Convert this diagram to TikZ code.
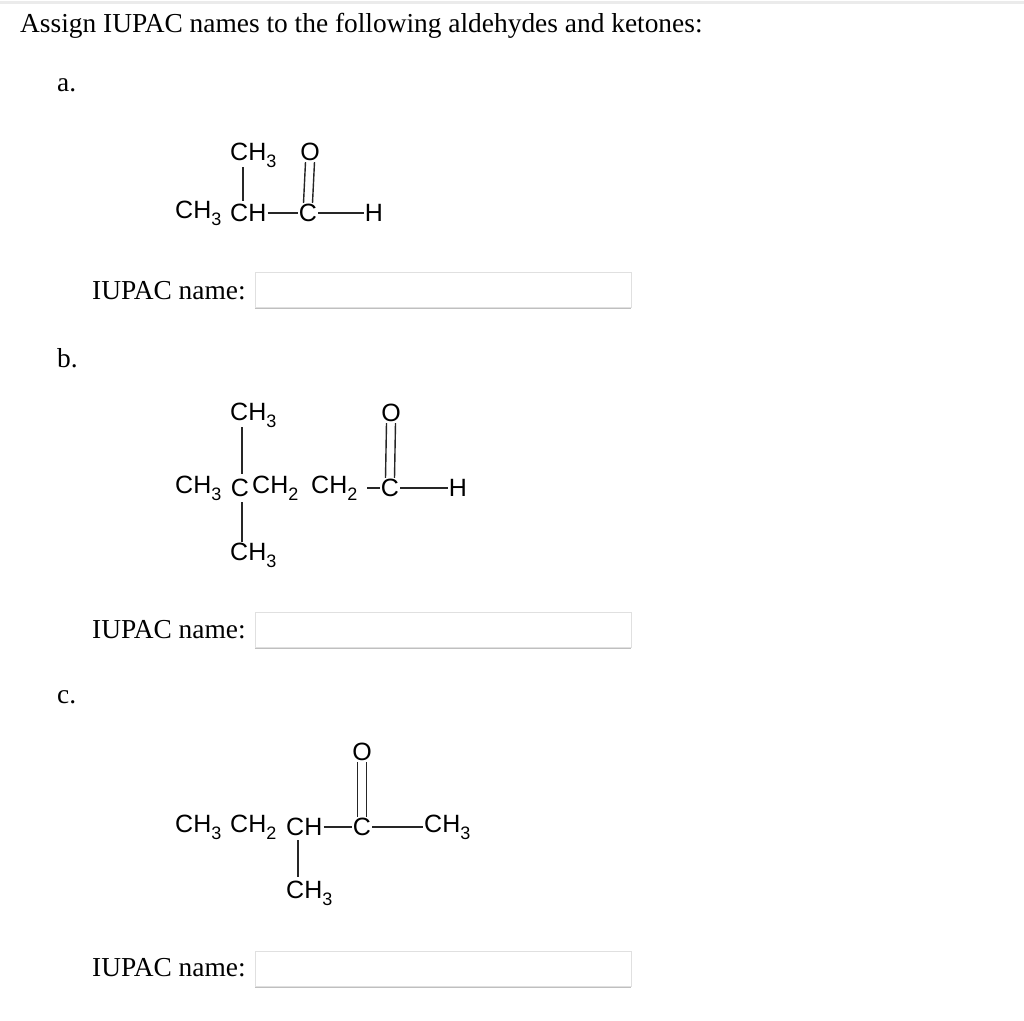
\documentclass[tikz,border=0pt]{standalone}
\usepackage{fontspec}
\setmainfont{Liberation Serif}
\newfontfamily\chemf{Liberation Sans}
\newcommand{\sbx}[1]{\raisebox{-0.28em}{\fontsize{18}{18}\selectfont #1}}
\begin{document}
\begin{tikzpicture}[x=1pt,y=-1pt,
  lab/.style={inner sep=0pt,anchor=west,font=\fontsize{27.4}{27.4}\selectfont},
  ch/.style={inner sep=1pt,font=\chemf\fontsize{25}{25}\selectfont},
  bond/.style={line width=1.4pt,draw=black!85},
  ansbox/.style={draw=black!12,line width=1pt,fill=white}]
\useasboundingbox (0,0) rectangle (1024,1020);
\draw[black!8,line width=3pt] (0,2) -- (1024,2);
\node[lab] (title) at (20,26) {Assign IUPAC names to the following aldehydes and ketones:};
% a
\node[lab] (la) at (57,85) {a.};
\node[ch,anchor=west] (a1) at (174,213) {CH\sbx{3}};
\node[ch,anchor=west] (a2) at (229,213) {CH};
\node[ch] (a3) at (308,213) {C};
\node[ch] (a4) at (374,213) {H};
\node[ch,anchor=west] (a5) at (229,155) {CH\sbx{3}};
\node[ch] (a6) at (310,152) {O};
\draw[bond] (a2.east) -- (a3.west);
\draw[bond] (a3.east) -- (a4.west);
\draw[bond] (243,167) -- (243,201);
\draw[bond] ([xshift=-4.5pt]a6.south) -- ([xshift=-4.5pt]a3.north);
\draw[bond] ([xshift=4.5pt]a6.south) -- ([xshift=4.5pt]a3.north);
\node[lab] (na) at (92,291) {IUPAC name:};
\draw[black!25,line width=1.5pt] (255,308) -- (631,308);
\node[ansbox,minimum width=376pt,minimum height=35pt,anchor=north west] (ba) at (255,272) {};
% b
\node[lab] (lb) at (57,358) {b.};
\node[ch,anchor=west] (b1) at (174,488) {CH\sbx{3}};
\node[ch] (b2) at (240,488) {C};
\node[ch,anchor=west] (b3) at (251,488) {CH\sbx{2}};
\node[ch,anchor=west] (b4) at (310,488) {CH\sbx{2}};
\node[ch] (b5) at (390,488) {C};
\node[ch] (b6) at (458,488) {H};
\node[ch,anchor=west] (b7) at (229,415) {CH\sbx{3}};
\node[ch,anchor=west] (b8) at (229,555) {CH\sbx{3}};
\node[ch] (b9) at (391,413) {O};
\draw[bond] (367,488) -- (b5.west);
\draw[bond] (b5.east) -- (b6.west);
\draw[bond] (242,427) -- (242,474);
\draw[bond] (242,502) -- (242,542);
\draw[bond] ([xshift=-4.5pt]b9.south) -- ([xshift=-4.5pt]b5.north);
\draw[bond] ([xshift=4.5pt]b9.south) -- ([xshift=4.5pt]b5.north);
\node[lab] (nb) at (92,630) {IUPAC name:};
\draw[black!25,line width=1.5pt] (255,648) -- (631,648);
\node[ansbox,minimum width=376pt,minimum height=35pt,anchor=north west] (bb) at (255,612) {};
% c
\node[lab] (lc) at (57,697) {c.};
\node[ch,anchor=west] (c1) at (174,827) {CH\sbx{3}};
\node[ch,anchor=west] (c2) at (229,827) {CH\sbx{2}};
\node[ch,anchor=west] (c3) at (285,827) {CH};
\node[ch] (c4) at (362,827) {C};
\node[ch,anchor=west] (c5) at (423,827) {CH\sbx{3}};
\node[ch,anchor=west] (c6) at (285,893) {CH\sbx{3}};
\node[ch] (c7) at (362,752) {O};
\draw[bond] (c3.east) -- (c4.west);
\draw[bond] (c4.east) -- (c5.west);
\draw[bond] (298,840) -- (298,877);
\draw[bond] ([xshift=-4.5pt]c7.south) -- ([xshift=-4.5pt]c4.north);
\draw[bond] ([xshift=4.5pt]c7.south) -- ([xshift=4.5pt]c4.north);
\node[lab] (nc) at (92,968) {IUPAC name:};
\draw[black!25,line width=1.5pt] (255,987) -- (631,987);
\node[ansbox,minimum width=376pt,minimum height=35pt,anchor=north west] (bc) at (255,951) {};
\end{tikzpicture}
\end{document}
